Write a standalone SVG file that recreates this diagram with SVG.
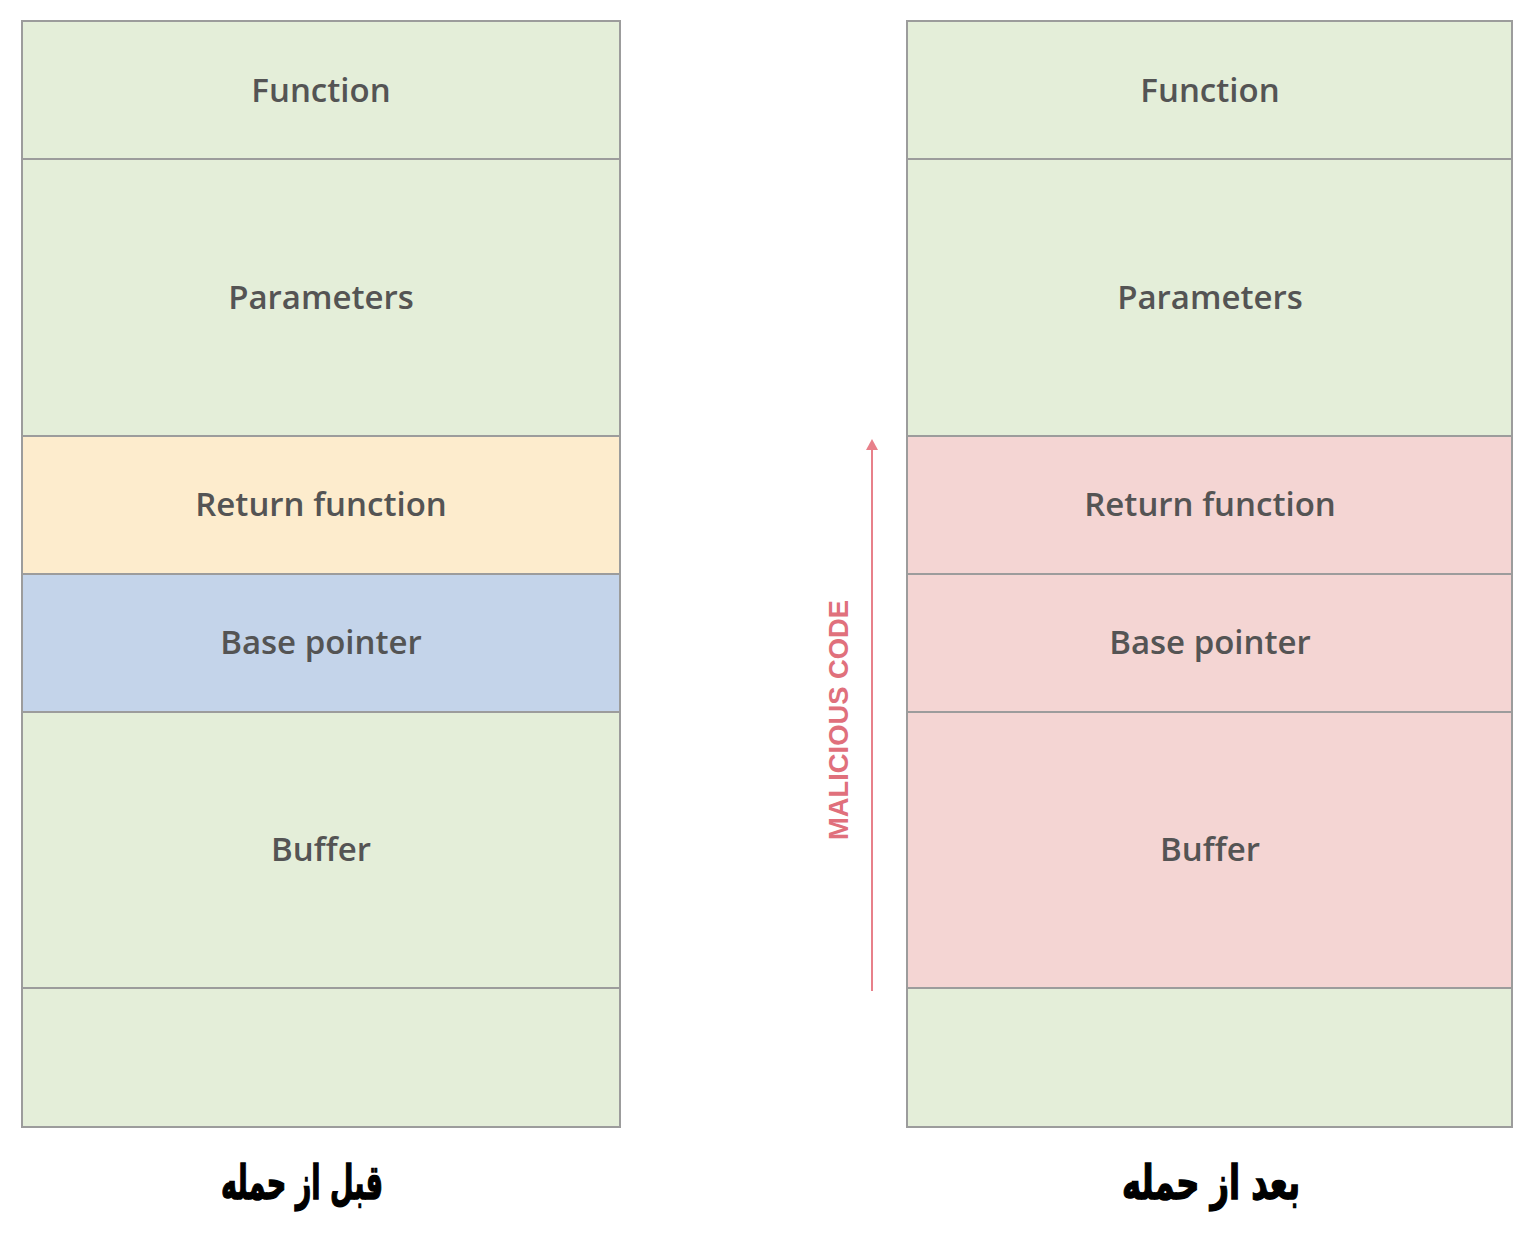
<svg xmlns="http://www.w3.org/2000/svg" width="1536" height="1238" viewBox="0 0 1536 1238">
<defs>
<style>
.cell{stroke:#9c9c9c;stroke-width:2}
.g{fill:#e4eed9}.y{fill:#fdeccd}.b{fill:#c4d4ea}.p{fill:#f4d5d3}
.lbl{font-family:"Open Sans","Noto Sans",sans-serif;font-size:33px;font-weight:600;fill:#545454;text-anchor:middle}
.fa{font-family:"DejaVu Sans","Noto Sans",sans-serif;font-weight:bold;font-size:48px;fill:#000;stroke:#000;stroke-width:1.5;text-anchor:middle}
</style>
</defs>
<rect width="1536" height="1238" fill="#ffffff"/>
<g id="before">
<g id="l-function"><rect class="cell g" x="22" y="21" width="598" height="138"/><text class="lbl" x="321" y="102">Function</text></g>
<g id="l-params"><rect class="cell g" x="22" y="159" width="598" height="277"/><text class="lbl" x="321" y="309">Parameters</text></g>
<g id="l-return"><rect class="cell y" x="22" y="436" width="598" height="138"/><text class="lbl" x="321" y="516">Return function</text></g>
<g id="l-base"><rect class="cell b" x="22" y="574" width="598" height="138"/><text class="lbl" x="321" y="654">Base pointer</text></g>
<g id="l-buffer"><rect class="cell g" x="22" y="712" width="598" height="276"/><text class="lbl" x="321" y="861">Buffer</text></g>
<g id="l-bottom"><rect class="cell g" x="22" y="988" width="598" height="139"/></g>
</g>
<g id="after">
<g id="r-function"><rect class="cell g" x="907" y="21" width="605" height="138"/><text class="lbl" x="1210" y="102">Function</text></g>
<g id="r-params"><rect class="cell g" x="907" y="159" width="605" height="277"/><text class="lbl" x="1210" y="309">Parameters</text></g>
<g id="r-return"><rect class="cell p" x="907" y="436" width="605" height="138"/><text class="lbl" x="1210" y="516">Return function</text></g>
<g id="r-base"><rect class="cell p" x="907" y="574" width="605" height="138"/><text class="lbl" x="1210" y="654">Base pointer</text></g>
<g id="r-buffer"><rect class="cell p" x="907" y="712" width="605" height="276"/><text class="lbl" x="1210" y="861">Buffer</text></g>
<g id="r-bottom"><rect class="cell g" x="907" y="988" width="605" height="139"/></g>
</g>
<g id="connectors">
<line x1="872" y1="991" x2="872" y2="450" stroke="#e8808a" stroke-width="2"/>
<path d="M866,450 L872,439 L878,450 Z" fill="#e8808a"/>
</g>
<g id="malicious-label">
<text x="0" y="0" transform="translate(848,720) rotate(-90)" font-family="'Liberation Sans',Arial,sans-serif" font-weight="bold" font-size="27" fill="#e0707c" text-anchor="middle" textLength="240" lengthAdjust="spacingAndGlyphs">MALICIOUS CODE</text>
</g>
<g id="captions">
<text class="fa" x="302" y="1199" direction="rtl" textLength="162" lengthAdjust="spacingAndGlyphs">قبل از حمله</text>
<text class="fa" x="1211" y="1199" direction="rtl" textLength="178" lengthAdjust="spacingAndGlyphs">بعد از حمله</text>
</g>
</svg>
